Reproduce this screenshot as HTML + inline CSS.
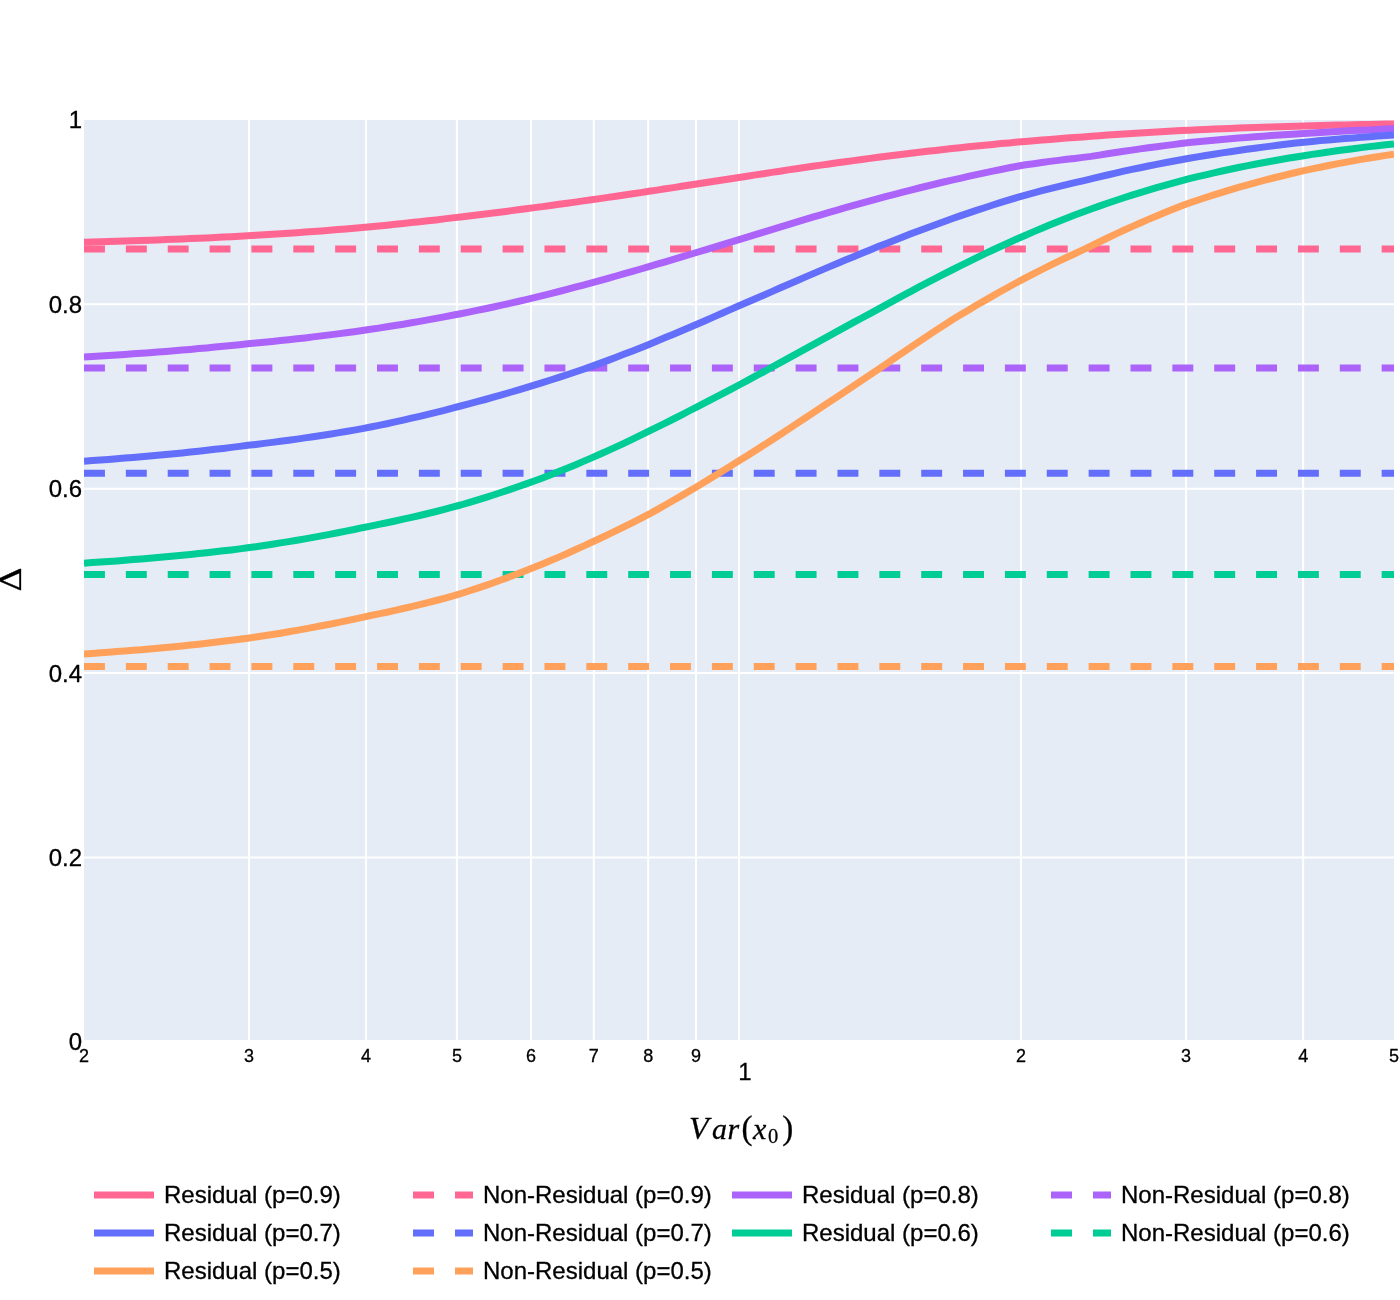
<!DOCTYPE html>
<html><head><meta charset="utf-8"><title>Residual vs Non-Residual</title>
<style>html,body{margin:0;padding:0;background:#fff}svg{display:block}text{font-family:"Liberation Sans",Arial,Helvetica,sans-serif;fill:#000;stroke:#000;stroke-width:.3px}.m{font-family:"Liberation Serif","DejaVu Serif",serif;font-style:italic}</style></head><body>
<svg width="1400" height="1300" viewBox="0 0 1400 1300">
<rect width="1400" height="1300" fill="#fff"/>
<rect x="84" y="120" width="1310" height="920" fill="#E5ECF6"/>
<defs><clipPath id="c"><rect x="84" y="120" width="1310" height="920"/></clipPath></defs>
<path d="M249.0,120V1040M366.1,120V1040M456.9,120V1040M531.1,120V1040M593.8,120V1040M648.2,120V1040M696.1,120V1040M739.0,120V1040M1021.1,120V1040M1186.1,120V1040M1303.2,120V1040M84,857.5H1394M84,673.1H1394M84,488.7H1394M84,304.3H1394" stroke="#fff" stroke-width="2" fill="none"/>
<g clip-path="url(#c)" fill="none" stroke-width="7" stroke-linejoin="round">
<path d="M84.0,242.2L92.2,242.0L100.4,241.8L108.6,241.5L116.8,241.3L124.9,241.0L133.1,240.8L141.3,240.5L149.5,240.2L157.7,239.9L165.9,239.6L174.1,239.3L182.2,238.9L190.4,238.6L198.6,238.2L206.8,237.9L215.0,237.5L223.2,237.1L231.4,236.7L239.6,236.2L247.7,235.8L255.9,235.3L264.1,234.8L272.3,234.3L280.5,233.8L288.7,233.2L296.9,232.7L305.1,232.1L313.2,231.5L321.4,230.9L329.6,230.2L337.8,229.6L346.0,228.9L354.2,228.2L362.4,227.5L370.6,226.8L378.8,226.0L386.9,225.2L395.1,224.3L403.3,223.5L411.5,222.6L419.7,221.7L427.9,220.8L436.1,219.9L444.3,218.9L452.4,217.9L460.6,217.0L468.8,216.0L477.0,215.0L485.2,214.0L493.4,213.0L501.6,212.0L509.7,210.9L517.9,209.8L526.1,208.7L534.3,207.6L542.5,206.6L550.7,205.5L558.9,204.3L567.1,203.2L575.2,202.1L583.4,200.9L591.6,199.8L599.8,198.6L608.0,197.4L616.2,196.2L624.4,195.0L632.6,193.8L640.8,192.6L648.9,191.3L657.1,190.1L665.3,188.8L673.5,187.6L681.7,186.3L689.9,185.0L698.1,183.8L706.2,182.5L714.4,181.2L722.6,180.0L730.8,178.7L739.0,177.5L747.2,176.2L755.4,174.9L763.6,173.7L771.8,172.4L779.9,171.2L788.1,169.9L796.3,168.7L804.5,167.5L812.7,166.3L820.9,165.1L829.1,164.0L837.2,162.8L845.4,161.7L853.6,160.6L861.8,159.5L870.0,158.4L878.2,157.3L886.4,156.3L894.6,155.2L902.8,154.2L910.9,153.2L919.1,152.3L927.3,151.3L935.5,150.4L943.7,149.5L951.9,148.6L960.1,147.7L968.3,146.8L976.4,146.0L984.6,145.2L992.8,144.4L1001.0,143.6L1009.2,142.9L1017.4,142.1L1025.6,141.4L1033.8,140.7L1041.9,140.1L1050.1,139.4L1058.3,138.8L1066.5,138.1L1074.7,137.5L1082.9,136.9L1091.1,136.3L1099.2,135.7L1107.4,135.1L1115.6,134.5L1123.8,134.0L1132.0,133.5L1140.2,132.9L1148.4,132.4L1156.6,132.0L1164.8,131.5L1172.9,131.0L1181.1,130.6L1189.3,130.2L1197.5,129.8L1205.7,129.4L1213.9,129.1L1222.1,128.7L1230.2,128.4L1238.4,128.1L1246.6,127.8L1254.8,127.5L1263.0,127.2L1271.2,127.0L1279.4,126.7L1287.6,126.5L1295.8,126.2L1303.9,126.0L1312.1,125.8L1320.3,125.5L1328.5,125.3L1336.7,125.1L1344.9,124.9L1353.1,124.7L1361.2,124.6L1369.4,124.4L1377.6,124.2L1385.8,124.1L1394.0,123.9" stroke="#FF6692"/>
<path d="M84,249.0H1394" stroke="#FF6692" stroke-dasharray="20.93,20.93"/>
<path d="M84.0,357.0L92.2,356.5L100.4,356.0L108.6,355.5L116.8,355.0L124.9,354.4L133.1,353.8L141.3,353.3L149.5,352.7L157.7,352.0L165.9,351.4L174.1,350.7L182.2,350.1L190.4,349.4L198.6,348.6L206.8,347.9L215.0,347.1L223.2,346.3L231.4,345.5L239.6,344.7L247.7,343.8L255.9,343.0L264.1,342.2L272.3,341.4L280.5,340.6L288.7,339.7L296.9,338.8L305.1,337.9L313.2,336.9L321.4,335.9L329.6,334.9L337.8,333.9L346.0,332.8L354.2,331.7L362.4,330.5L370.6,329.3L378.8,328.1L386.9,326.8L395.1,325.5L403.3,324.2L411.5,322.8L419.7,321.4L427.9,319.9L436.1,318.4L444.3,316.9L452.4,315.3L460.6,313.7L468.8,312.1L477.0,310.4L485.2,308.7L493.4,307.0L501.6,305.2L509.7,303.4L517.9,301.5L526.1,299.6L534.3,297.7L542.5,295.6L550.7,293.6L558.9,291.5L567.1,289.4L575.2,287.2L583.4,285.1L591.6,282.9L599.8,280.6L608.0,278.3L616.2,276.0L624.4,273.7L632.6,271.4L640.8,269.0L648.9,266.6L657.1,264.2L665.3,261.8L673.5,259.4L681.7,256.9L689.9,254.5L698.1,252.0L706.2,249.6L714.4,247.1L722.6,244.6L730.8,242.2L739.0,239.7L747.2,237.2L755.4,234.6L763.6,232.1L771.8,229.6L779.9,227.1L788.1,224.6L796.3,222.1L804.5,219.7L812.7,217.2L820.9,214.8L829.1,212.4L837.2,210.1L845.4,207.7L853.6,205.4L861.8,203.1L870.0,200.9L878.2,198.6L886.4,196.4L894.6,194.3L902.8,192.2L910.9,190.1L919.1,188.0L927.3,186.0L935.5,184.0L943.7,182.0L951.9,180.1L960.1,178.3L968.3,176.4L976.4,174.6L984.6,172.9L992.8,171.1L1001.0,169.5L1009.2,167.8L1017.4,166.2L1025.6,164.8L1033.8,163.7L1041.9,162.5L1050.1,161.4L1058.3,160.4L1066.5,159.3L1074.7,158.4L1082.9,157.4L1091.1,156.4L1099.2,155.1L1107.4,153.8L1115.6,152.5L1123.8,151.3L1132.0,150.1L1140.2,148.9L1148.4,147.8L1156.6,146.7L1164.8,145.6L1172.9,144.6L1181.1,143.5L1189.3,142.6L1197.5,141.8L1205.7,141.0L1213.9,140.2L1222.1,139.5L1230.2,138.8L1238.4,138.1L1246.6,137.5L1254.8,136.8L1263.0,136.2L1271.2,135.6L1279.4,135.0L1287.6,134.5L1295.8,133.9L1303.9,133.4L1312.1,132.9L1320.3,132.4L1328.5,131.9L1336.7,131.5L1344.9,131.1L1353.1,130.6L1361.2,130.2L1369.4,129.9L1377.6,129.5L1385.8,129.1L1394.0,128.8" stroke="#AB63FA"/>
<path d="M84,367.9H1394" stroke="#AB63FA" stroke-dasharray="20.93,20.93"/>
<path d="M84.0,461.2L92.2,460.6L100.4,460.0L108.6,459.4L116.8,458.8L124.9,458.1L133.1,457.4L141.3,456.7L149.5,456.0L157.7,455.3L165.9,454.5L174.1,453.7L182.2,452.9L190.4,452.0L198.6,451.2L206.8,450.3L215.0,449.3L223.2,448.4L231.4,447.4L239.6,446.4L247.7,445.3L255.9,444.4L264.1,443.4L272.3,442.4L280.5,441.3L288.7,440.2L296.9,439.1L305.1,437.9L313.2,436.7L321.4,435.5L329.6,434.2L337.8,432.9L346.0,431.5L354.2,430.1L362.4,428.6L370.6,427.0L378.8,425.4L386.9,423.7L395.1,421.9L403.3,420.1L411.5,418.2L419.7,416.3L427.9,414.3L436.1,412.3L444.3,410.3L452.4,408.1L460.6,406.0L468.8,403.9L477.0,401.7L485.2,399.5L493.4,397.2L501.6,394.9L509.7,392.5L517.9,390.1L526.1,387.6L534.3,385.1L542.5,382.6L550.7,380.0L558.9,377.4L567.1,374.7L575.2,372.0L583.4,369.2L591.6,366.4L599.8,363.4L608.0,360.4L616.2,357.3L624.4,354.1L632.6,350.9L640.8,347.7L648.9,344.4L657.1,341.0L665.3,337.6L673.5,334.2L681.7,330.7L689.9,327.2L698.1,323.7L706.2,320.2L714.4,316.6L722.6,313.0L730.8,309.4L739.0,305.8L747.2,302.3L755.4,298.7L763.6,295.2L771.8,291.6L779.9,288.0L788.1,284.5L796.3,281.0L804.5,277.4L812.7,273.9L820.9,270.4L829.1,266.9L837.2,263.5L845.4,260.1L853.6,256.7L861.8,253.3L870.0,250.0L878.2,246.6L886.4,243.4L894.6,240.2L902.8,237.0L910.9,233.8L919.1,230.7L927.3,227.7L935.5,224.7L943.7,221.7L951.9,218.8L960.1,215.9L968.3,213.1L976.4,210.4L984.6,207.7L992.8,205.0L1001.0,202.4L1009.2,199.9L1017.4,197.4L1025.6,195.1L1033.8,192.9L1041.9,190.7L1050.1,188.6L1058.3,186.6L1066.5,184.6L1074.7,182.7L1082.9,180.8L1091.1,178.9L1099.2,176.9L1107.4,175.0L1115.6,173.1L1123.8,171.2L1132.0,169.4L1140.2,167.7L1148.4,166.0L1156.6,164.4L1164.8,162.8L1172.9,161.2L1181.1,159.7L1189.3,158.3L1197.5,156.9L1205.7,155.5L1213.9,154.2L1222.1,152.9L1230.2,151.7L1238.4,150.5L1246.6,149.3L1254.8,148.2L1263.0,147.1L1271.2,146.1L1279.4,145.0L1287.6,144.0L1295.8,143.1L1303.9,142.2L1312.1,141.4L1320.3,140.6L1328.5,139.9L1336.7,139.2L1344.9,138.5L1353.1,137.9L1361.2,137.3L1369.4,136.7L1377.6,136.1L1385.8,135.6L1394.0,135.0" stroke="#636EFA"/>
<path d="M84,473.3H1394" stroke="#636EFA" stroke-dasharray="20.93,20.93"/>
<path d="M84.0,563.2L92.2,562.6L100.4,562.1L108.6,561.5L116.8,560.9L124.9,560.3L133.1,559.6L141.3,559.0L149.5,558.3L157.7,557.6L165.9,556.8L174.1,556.0L182.2,555.2L190.4,554.4L198.6,553.6L206.8,552.7L215.0,551.8L223.2,550.8L231.4,549.9L239.6,548.9L247.7,547.8L255.9,546.7L264.1,545.5L272.3,544.2L280.5,542.9L288.7,541.6L296.9,540.3L305.1,538.9L313.2,537.4L321.4,535.9L329.6,534.4L337.8,532.8L346.0,531.1L354.2,529.5L362.4,527.7L370.6,526.1L378.8,524.4L386.9,522.8L395.1,521.0L403.3,519.2L411.5,517.4L419.7,515.5L427.9,513.5L436.1,511.5L444.3,509.4L452.4,507.2L460.6,505.0L468.8,502.6L477.0,500.1L485.2,497.6L493.4,495.0L501.6,492.3L509.7,489.6L517.9,486.8L526.1,483.9L534.3,481.0L542.5,477.9L550.7,474.7L558.9,471.5L567.1,468.2L575.2,464.9L583.4,461.4L591.6,457.9L599.8,454.3L608.0,450.6L616.2,446.9L624.4,443.1L632.6,439.2L640.8,435.2L648.9,431.2L657.1,427.2L665.3,423.1L673.5,419.0L681.7,414.8L689.9,410.5L698.1,406.3L706.2,402.1L714.4,397.9L722.6,393.6L730.8,389.4L739.0,385.0L747.2,380.6L755.4,376.2L763.6,371.8L771.8,367.3L779.9,362.9L788.1,358.4L796.3,353.9L804.5,349.4L812.7,344.9L820.9,340.4L829.1,335.9L837.2,331.4L845.4,326.9L853.6,322.4L861.8,318.0L870.0,313.6L878.2,309.1L886.4,304.6L894.6,300.1L902.8,295.7L910.9,291.3L919.1,286.9L927.3,282.6L935.5,278.4L943.7,274.1L951.9,270.0L960.1,265.9L968.3,261.8L976.4,257.8L984.6,253.9L992.8,250.0L1001.0,246.2L1009.2,242.5L1017.4,238.8L1025.6,235.2L1033.8,231.6L1041.9,228.2L1050.1,224.8L1058.3,221.4L1066.5,218.2L1074.7,215.0L1082.9,211.9L1091.1,209.0L1099.2,206.1L1107.4,203.2L1115.6,200.5L1123.8,197.8L1132.0,195.2L1140.2,192.6L1148.4,190.1L1156.6,187.7L1164.8,185.4L1172.9,183.1L1181.1,180.9L1189.3,178.7L1197.5,176.7L1205.7,174.8L1213.9,172.9L1222.1,171.0L1230.2,169.3L1238.4,167.5L1246.6,165.9L1254.8,164.3L1263.0,162.7L1271.2,161.2L1279.4,159.7L1287.6,158.3L1295.8,157.0L1303.9,155.7L1312.1,154.4L1320.3,153.2L1328.5,152.0L1336.7,150.8L1344.9,149.7L1353.1,148.7L1361.2,147.6L1369.4,146.6L1377.6,145.7L1385.8,144.8L1394.0,143.9" stroke="#00CC96"/>
<path d="M84,574.6H1394" stroke="#00CC96" stroke-dasharray="20.93,20.93"/>
<path d="M84.0,653.9L92.2,653.4L100.4,652.8L108.6,652.2L116.8,651.6L124.9,651.0L133.1,650.3L141.3,649.7L149.5,648.9L157.7,648.2L165.9,647.5L174.1,646.7L182.2,645.9L190.4,645.0L198.6,644.2L206.8,643.3L215.0,642.3L223.2,641.3L231.4,640.3L239.6,639.3L247.7,638.2L255.9,637.0L264.1,635.8L272.3,634.5L280.5,633.2L288.7,631.8L296.9,630.4L305.1,628.9L313.2,627.4L321.4,625.8L329.6,624.2L337.8,622.6L346.0,620.9L354.2,619.1L362.4,617.3L370.6,615.5L378.8,613.9L386.9,612.2L395.1,610.4L403.3,608.5L411.5,606.6L419.7,604.7L427.9,602.6L436.1,600.5L444.3,598.3L452.4,596.1L460.6,593.7L468.8,591.0L477.0,588.4L485.2,585.6L493.4,582.7L501.6,579.8L509.7,576.8L517.9,573.7L526.1,570.5L534.3,567.3L542.5,564.0L550.7,560.6L558.9,557.1L567.1,553.5L575.2,549.8L583.4,546.1L591.6,542.3L599.8,538.5L608.0,534.6L616.2,530.7L624.4,526.7L632.6,522.6L640.8,518.4L648.9,514.2L657.1,509.6L665.3,505.0L673.5,500.3L681.7,495.6L689.9,490.7L698.1,485.9L706.2,481.0L714.4,476.0L722.6,471.0L730.8,465.9L739.0,460.8L747.2,455.7L755.4,450.5L763.6,445.3L771.8,440.0L779.9,434.7L788.1,429.3L796.3,423.9L804.5,418.5L812.7,413.1L820.9,407.7L829.1,402.2L837.2,396.8L845.4,391.3L853.6,385.8L861.8,380.4L870.0,374.9L878.2,369.4L886.4,363.8L894.6,358.2L902.8,352.6L910.9,347.1L919.1,341.6L927.3,336.1L935.5,330.7L943.7,325.3L951.9,320.0L960.1,315.1L968.3,310.2L976.4,305.3L984.6,300.6L992.8,295.9L1001.0,291.2L1009.2,286.7L1017.4,282.2L1025.6,277.8L1033.8,273.6L1041.9,269.5L1050.1,265.4L1058.3,261.4L1066.5,257.5L1074.7,253.7L1082.9,249.8L1091.1,246.0L1099.2,242.0L1107.4,238.0L1115.6,234.1L1123.8,230.3L1132.0,226.6L1140.2,223.0L1148.4,219.4L1156.6,216.0L1164.8,212.6L1172.9,209.3L1181.1,206.1L1189.3,203.0L1197.5,200.2L1205.7,197.5L1213.9,194.9L1222.1,192.3L1230.2,189.9L1238.4,187.4L1246.6,185.1L1254.8,182.8L1263.0,180.6L1271.2,178.5L1279.4,176.5L1287.6,174.5L1295.8,172.5L1303.9,170.7L1312.1,168.9L1320.3,167.2L1328.5,165.5L1336.7,163.9L1344.9,162.4L1353.1,160.9L1361.2,159.4L1369.4,158.0L1377.6,156.7L1385.8,155.4L1394.0,154.1" stroke="#FFA15A"/>
<path d="M84,666.6H1394" stroke="#FFA15A" stroke-dasharray="20.93,20.93"/>
</g>
<text x="82" y="1050" font-size="24" text-anchor="end">0</text>
<text x="82" y="866.2" font-size="24" text-anchor="end">0.2</text>
<text x="82" y="681.8" font-size="24" text-anchor="end">0.4</text>
<text x="82" y="497.3" font-size="24" text-anchor="end">0.6</text>
<text x="82" y="313" font-size="24" text-anchor="end">0.8</text>
<text x="82" y="127.9" font-size="24" text-anchor="end">1</text>
<text x="84.0" y="1061.8" font-size="18" text-anchor="middle">2</text>
<text x="249.0" y="1061.8" font-size="18" text-anchor="middle">3</text>
<text x="366.1" y="1061.8" font-size="18" text-anchor="middle">4</text>
<text x="456.9" y="1061.8" font-size="18" text-anchor="middle">5</text>
<text x="531.1" y="1061.8" font-size="18" text-anchor="middle">6</text>
<text x="593.8" y="1061.8" font-size="18" text-anchor="middle">7</text>
<text x="648.2" y="1061.8" font-size="18" text-anchor="middle">8</text>
<text x="696.1" y="1061.8" font-size="18" text-anchor="middle">9</text>
<text x="1021.1" y="1061.8" font-size="18" text-anchor="middle">2</text>
<text x="1186.1" y="1061.8" font-size="18" text-anchor="middle">3</text>
<text x="1303.2" y="1061.8" font-size="18" text-anchor="middle">4</text>
<text x="1394.0" y="1061.8" font-size="18" text-anchor="middle">5</text>
<text x="745.0" y="1080" font-size="24" text-anchor="middle">1</text>
<text class="m" y="1138.6" font-size="30" stroke-width="0.45"><tspan x="689" font-size="32">V</tspan><tspan x="711.9">a</tspan><tspan x="727.6">r</tspan><tspan x="741.5" font-size="33" font-style="normal">(</tspan><tspan x="752.9">x</tspan><tspan x="768" y="1142.8" font-size="20.5" font-style="normal">0</tspan><tspan x="782.2" y="1138.6" font-size="33" font-style="normal">)</tspan></text>
<text transform="translate(21,579.5) rotate(-90) scale(1.16,1)" font-size="32" text-anchor="middle" stroke="#000" stroke-width="0.4" style="font-family:'Liberation Serif',serif">Δ</text>
<path d="M94,1195h60" stroke="#FF6692" stroke-width="7" fill="none"/>
<text x="164" y="1203.4" font-size="24">Residual (p=0.9)</text>
<path d="M413,1195h60" stroke="#FF6692" stroke-width="7" fill="none" stroke-dasharray="21,21"/>
<text x="483" y="1203.4" font-size="24">Non-Residual (p=0.9)</text>
<path d="M732,1195h60" stroke="#AB63FA" stroke-width="7" fill="none"/>
<text x="802" y="1203.4" font-size="24">Residual (p=0.8)</text>
<path d="M1051,1195h60" stroke="#AB63FA" stroke-width="7" fill="none" stroke-dasharray="21,21"/>
<text x="1121" y="1203.4" font-size="24">Non-Residual (p=0.8)</text>
<path d="M94,1233h60" stroke="#636EFA" stroke-width="7" fill="none"/>
<text x="164" y="1241.4" font-size="24">Residual (p=0.7)</text>
<path d="M413,1233h60" stroke="#636EFA" stroke-width="7" fill="none" stroke-dasharray="21,21"/>
<text x="483" y="1241.4" font-size="24">Non-Residual (p=0.7)</text>
<path d="M732,1233h60" stroke="#00CC96" stroke-width="7" fill="none"/>
<text x="802" y="1241.4" font-size="24">Residual (p=0.6)</text>
<path d="M1051,1233h60" stroke="#00CC96" stroke-width="7" fill="none" stroke-dasharray="21,21"/>
<text x="1121" y="1241.4" font-size="24">Non-Residual (p=0.6)</text>
<path d="M94,1271h60" stroke="#FFA15A" stroke-width="7" fill="none"/>
<text x="164" y="1279.4" font-size="24">Residual (p=0.5)</text>
<path d="M413,1271h60" stroke="#FFA15A" stroke-width="7" fill="none" stroke-dasharray="21,21"/>
<text x="483" y="1279.4" font-size="24">Non-Residual (p=0.5)</text>
</svg></body></html>
